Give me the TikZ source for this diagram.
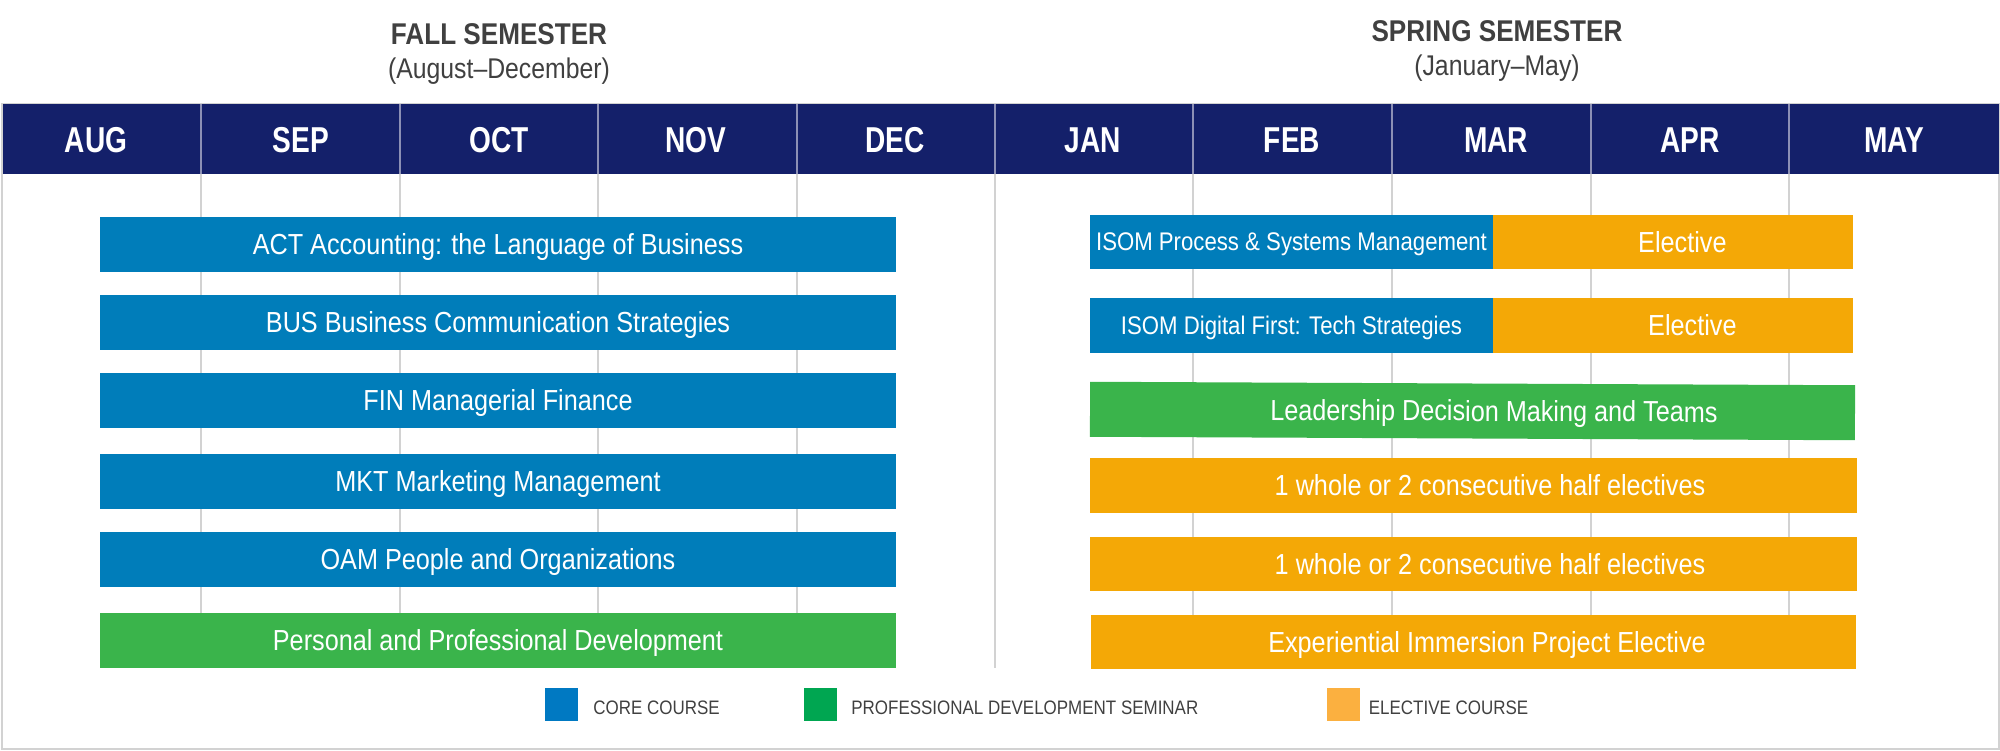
\documentclass[tikz,border=0pt]{standalone}
\usepackage{fontspec}
\setmainfont{Liberation Sans}[FakeStretch=0.87]
\newfontfamily\monthfont{Liberation Sans}[FakeStretch=0.78]
\usetikzlibrary{positioning}

\definecolor{navy}{HTML}{14206A}
\definecolor{coreblue}{HTML}{007DBA}
\definecolor{devgreen}{HTML}{3AB44B}
\definecolor{elecorange}{HTML}{F4A806}
\definecolor{keyblue}{HTML}{0079C2}
\definecolor{keygreen}{HTML}{00A651}
\definecolor{keyorange}{HTML}{FBB040}
\definecolor{titlegray}{HTML}{404040}
\definecolor{gridgray}{HTML}{D2D2D2}
\definecolor{sepgray}{HTML}{8C90B5}

\begin{document}
\begin{tikzpicture}[x=1pt, y=-1pt,
    bar/.style={rectangle, inner sep=0pt, minimum height=55pt, text=white,
        font=\fontsize{29}{29}\selectfont, text height=20.3pt, text depth=0pt},
    corebar/.style={bar, fill=coreblue},
    devbar/.style={bar, fill=devgreen},
    electbar/.style={bar, fill=elecorange},
    isombar/.style={corebar, font=\fontsize{25.5}{25.5}\selectfont, text height=17.9pt},
    barlabel/.style={inner sep=0pt, text=white,
        font=\fontsize{29}{29}\selectfont, text height=20.3pt, text depth=0pt},
    month/.style={inner sep=0pt, text=white,
        font=\monthfont\fontsize{36}{36}\selectfont\bfseries, text height=25.5pt, text depth=0pt},
    semtitle/.style={inner sep=0pt, text=titlegray,
        font=\fontsize{30}{30}\selectfont\bfseries, text height=21pt, text depth=0pt},
    semrange/.style={inner sep=0pt, text=titlegray,
        font=\fontsize{28.5}{28.5}\selectfont, text height=20pt, text depth=0pt},
    keybox/.style={rectangle, inner sep=0pt, minimum size=33pt},
    keytext/.style={inner sep=0pt, text=titlegray, yshift=-3pt,
        font=\fontsize{19.5}{19.5}\selectfont, text height=13.7pt, text depth=0pt},
    gridline/.style={gridgray, line width=1.5pt},
    sepline/.style={sepgray, line width=1.2pt}
]
    \useasboundingbox (0,0) rectangle (2000,751);

    \node[semtitle] (falltitle) at (499,34.5) {FALL SEMESTER};
    \node[semrange] (fallrange) at (499,69) {(August–December)};
    \node[semtitle] (springtitle) at (1497,31.5) {SPRING SEMESTER};
    \node[semrange] (springrange) at (1497,66) {(January–May)};

    \draw[gridgray, line width=2pt] (2,104) rectangle (1999,749);
    \fill[navy] (3,104) rectangle (1999,174);
    \foreach \gx in {201,400,598,797,995,1193,1392,1591,1789} {
        \draw[sepline] (\gx,104) -- (\gx,174);
        \draw[gridline] (\gx,174) -- (\gx,668);
    }

    \node[month] (aug) at (96,140) {AUG};
    \node[month] (sep) at (301,140) {SEP};
    \node[month] (oct) at (499,140) {OCT};
    \node[month] (nov) at (696,140) {NOV};
    \node[month] (dec) at (895,140) {DEC};
    \node[month] (jan) at (1093,140) {JAN};
    \node[month] (feb) at (1292,140) {FEB};
    \node[month] (mar) at (1496,140) {MAR};
    \node[month] (apr) at (1690,140) {APR};
    \node[month] (may) at (1894,140) {MAY};

    \node[corebar, minimum width=796pt] (act) at (498,244.5) {ACT Accounting: the Language of Business};
    \node[corebar, minimum width=796pt] (bus) at (498,322.5) {BUS Business Communication Strategies};
    \node[corebar, minimum width=796pt] (fin) at (498,400.5) {FIN Managerial Finance};
    \node[corebar, minimum width=796pt] (mkt) at (498,481.5) {MKT Marketing Management};
    \node[corebar, minimum width=796pt] (oam) at (498,559.5) {OAM People and Organizations};
    \node[devbar, minimum width=796pt] (ppd) at (498,640.5) {Personal and Professional Development};

    \node[isombar, minimum width=403pt, minimum height=54pt] (isomps) at (1291.5,242) {ISOM Process \& Systems Management};
    \node[electbar, minimum width=360pt, minimum height=54pt, anchor=west] (elecps) at (isomps.east) {};
    \node[barlabel] at ([xshift=9pt]elecps.center) {Elective};
    \node[isombar, minimum width=403pt, minimum height=55pt] (isomdf) at (1291.5,325.5) {ISOM Digital First: Tech Strategies};
    \node[electbar, minimum width=360pt, minimum height=55pt, anchor=west] (elecdf) at (isomdf.east) {};
    \node[barlabel] at ([xshift=19pt]elecdf.center) {Elective};

    \node[devbar, minimum width=765pt, rotate=-0.26] (lead) at (1472.5,411) {};
    \node[barlabel, rotate=-0.26] at ([xshift=21.5pt]lead.center) {Leadership Decision Making and Teams};
    \node[electbar, minimum width=767pt] (halfa) at (1473.5,485.5) {};
    \node[barlabel] at ([xshift=16.5pt]halfa.center) {1 whole or 2 consecutive half electives};
    \node[electbar, minimum width=767pt, minimum height=54pt] (halfb) at (1473.5,564) {};
    \node[barlabel] at ([xshift=16.5pt]halfb.center) {1 whole or 2 consecutive half electives};
    \node[electbar, minimum width=765pt, minimum height=54pt] (eip) at (1473.5,642) {};
    \node[barlabel] at ([xshift=13.5pt]eip.center) {Experiential Immersion Project Elective};

    \node[keybox, fill=keyblue] (corekey) at (561.5,704.5) {};
    \node[keytext, right=15pt of corekey] (coretext) {CORE COURSE};
    \node[keybox, fill=keygreen] (devkey) at (820.5,704.5) {};
    \node[keytext, right=14pt of devkey] (devtext) {PROFESSIONAL DEVELOPMENT SEMINAR};
    \node[keybox, fill=keyorange] (eleckey) at (1343,704.5) {};
    \node[keytext, right=9pt of eleckey] (electext) {ELECTIVE COURSE};
\end{tikzpicture}
\end{document}
